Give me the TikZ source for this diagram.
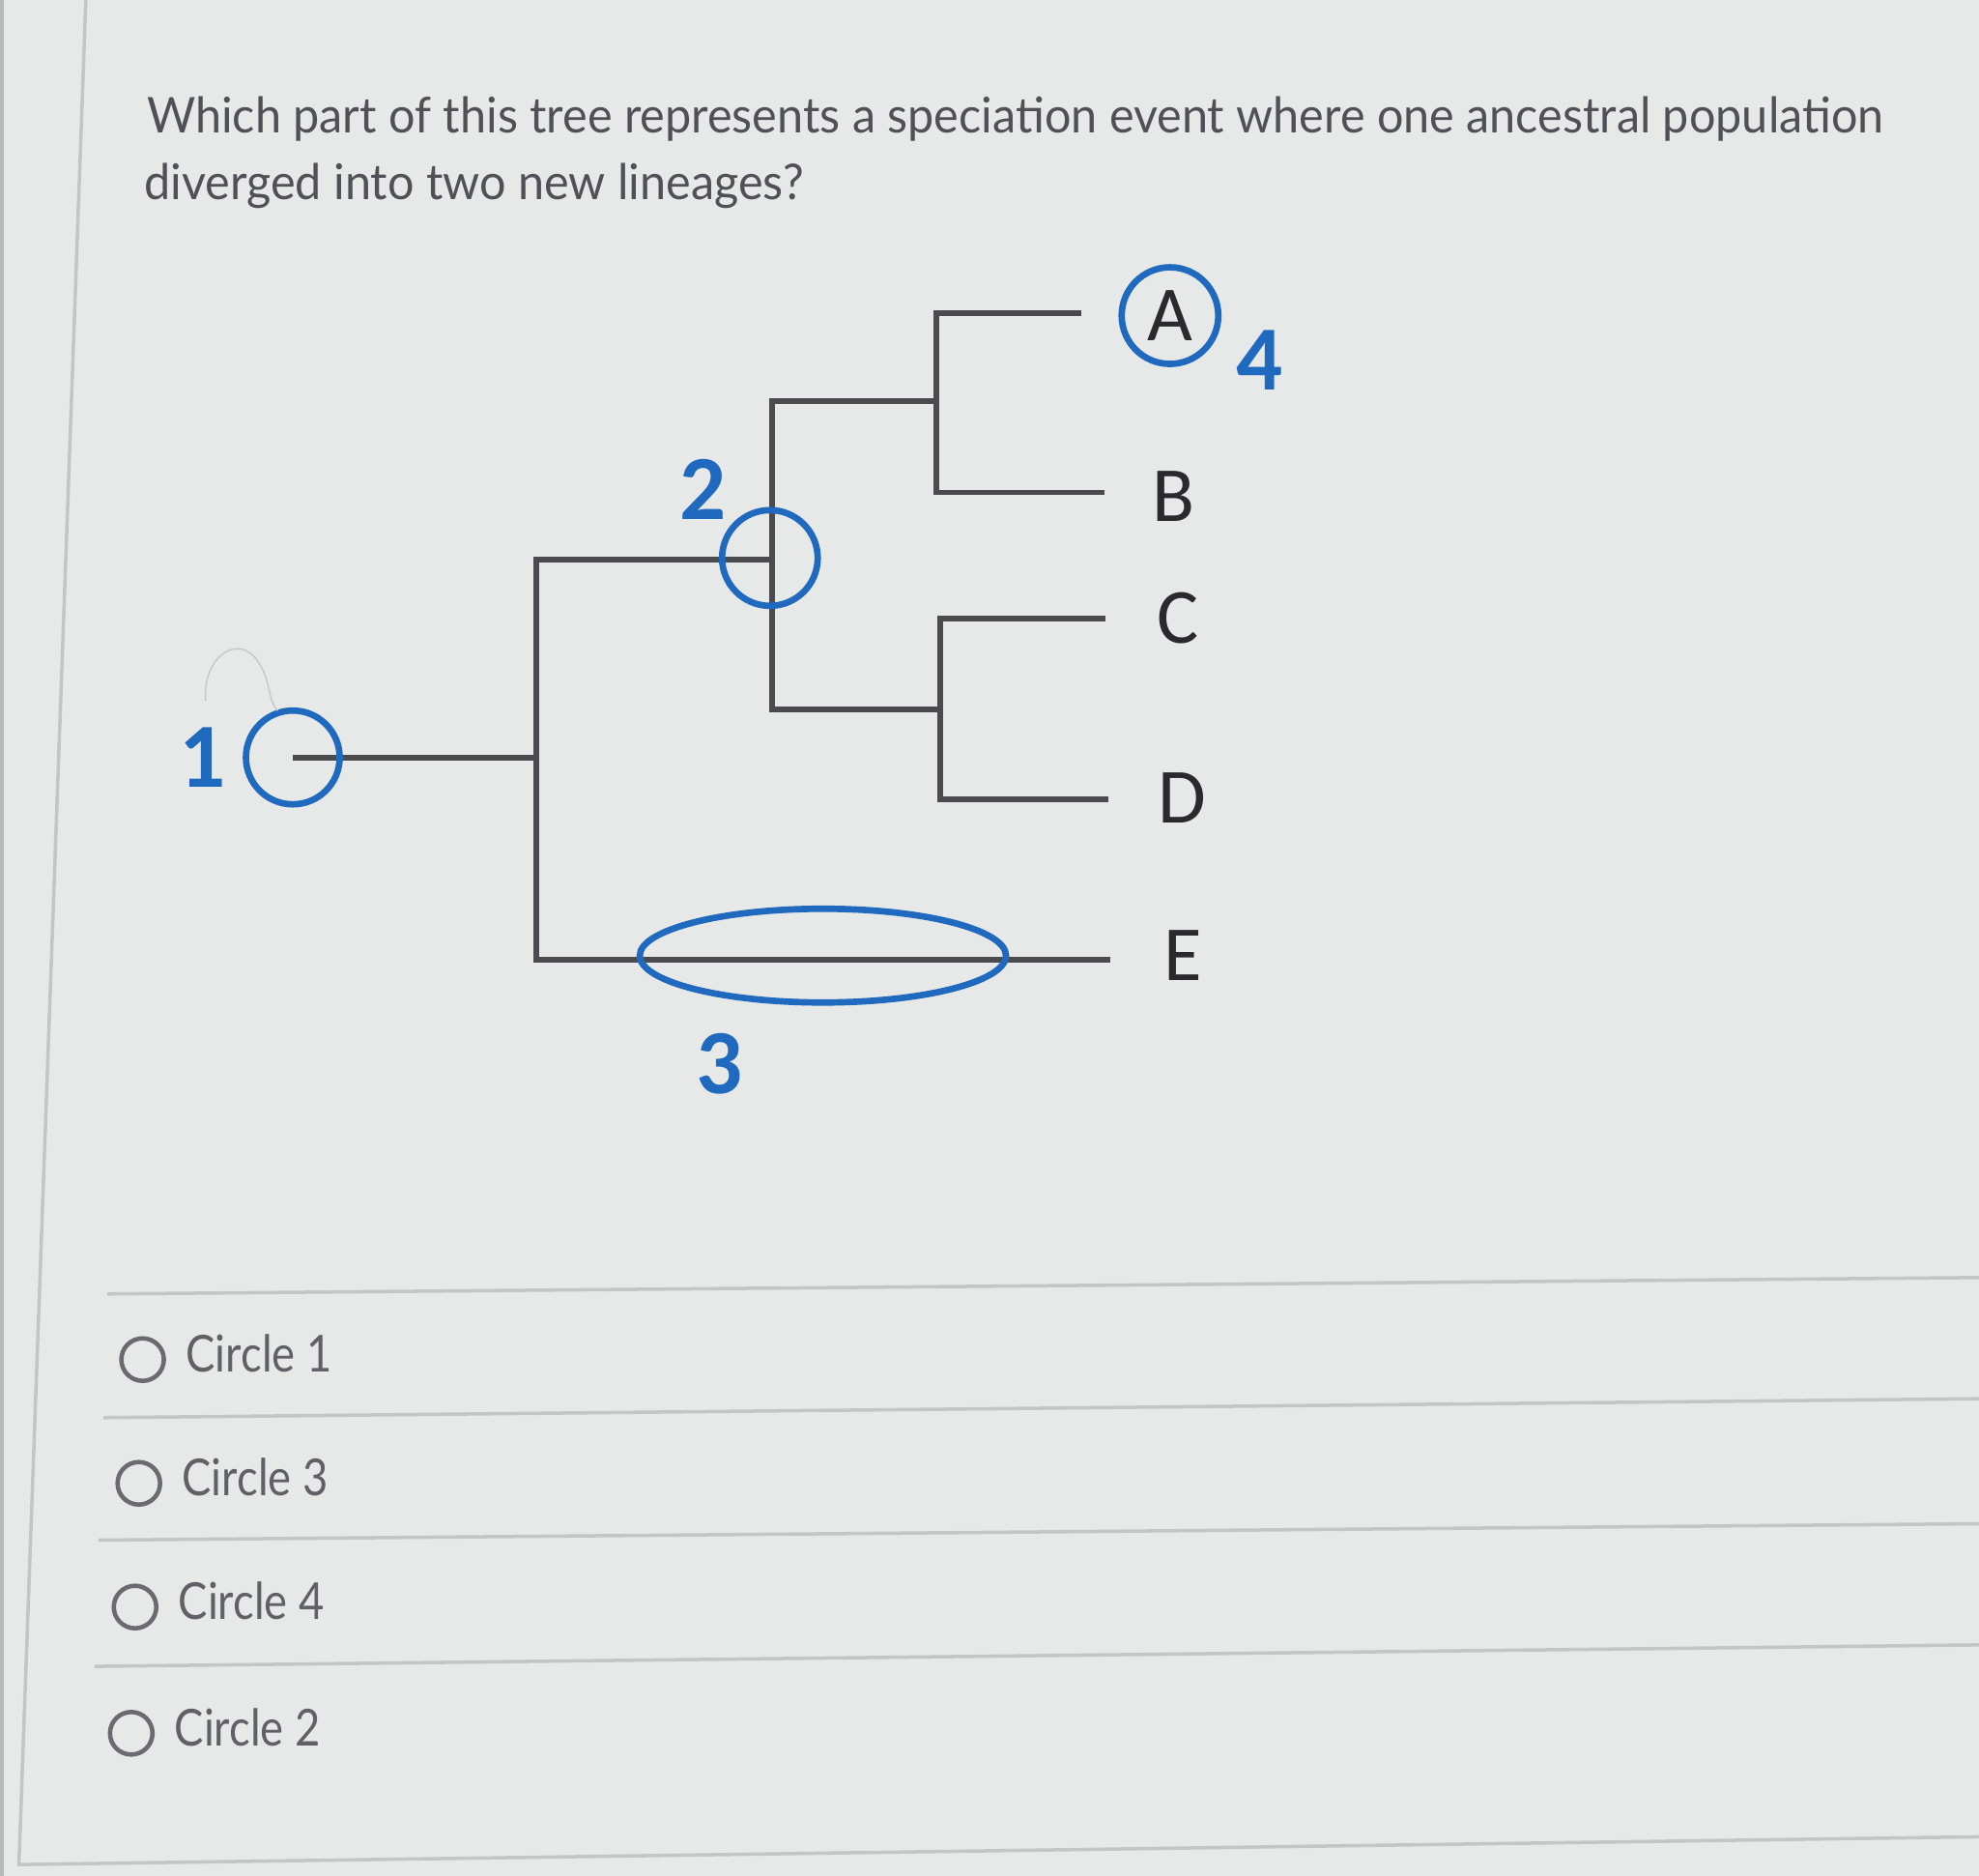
\documentclass[tikz,border=0pt]{standalone}
\usepackage{graphicx}
\usepackage{fontspec}
\setmainfont{Lato}
\newfontfamily\treefont{Carlito}
\usetikzlibrary{positioning,shapes.geometric}

\definecolor{pagebg}{HTML}{E7E9E8}
\definecolor{edgegray}{HTML}{B9BBBB}
\definecolor{rulegray}{HTML}{C4C6C6}
\definecolor{textgray}{HTML}{505056}
\definecolor{choicegray}{HTML}{606066}
\definecolor{inkgray}{HTML}{4B4B4F}
\definecolor{tipblack}{HTML}{2A2A2E}
\definecolor{markblue}{HTML}{1F69BE}
\definecolor{radiogray}{HTML}{6A6A70}

\begin{document}
\begin{tikzpicture}[x=0.013061cm, y=-0.013061cm,
    branch/.style={draw=inkgray, line width=1.65pt},
    hilite/.style={draw=markblue, line width=1.9pt, inner sep=0pt},
    tip/.style={font=\treefont\fontsize{23}{23}\selectfont, text=tipblack, inner sep=0pt},
    tag/.style={font=\treefont\bfseries\fontsize{27}{27}\selectfont, text=markblue, inner sep=0pt},
    question/.style={font=\fontsize{14.5}{18}\selectfont, text=textgray, anchor=base west, inner sep=0pt},
    choice/.style={font=\fontsize{15}{18}\selectfont, text=choicegray, inner sep=0pt},
    radio/.style={circle, draw=radiogray, line width=1.3pt, minimum size=0.44cm, inner sep=0pt},
    rule/.style={draw=rulegray, line width=1pt}
  ]
  \useasboundingbox (0,0) rectangle (1568,1486);
  \fill[pagebg] (0,0) rectangle (1568,1486);
  \fill[edgegray] (0,0) rectangle (3,1486);

  % page frame and separators
  \draw[rule] (68,0) -- (15,1477) -- (1568,1455);
  \draw[rule] (85,1025) -- (1568,1012);
  \draw[rule] (82,1123) -- (1568,1108);
  \draw[rule] (78,1220) -- (1568,1207);
  \draw[rule] (75,1320) -- (1568,1303);

  % question
  \node[question] (q1) at (116,105) {\scalebox{0.952}[1]{Which part of this tree represents a speciation event where one ancestral population}};
  \node[question] (q2) at (114,158) {\scalebox{0.952}[1]{diverged into two new lineages?}};

  % tree joints
  \coordinate (r0) at (232,600);
  \coordinate (j1) at (425,600);
  \coordinate (j2) at (612,443);
  \coordinate (j3) at (742,318);
  \coordinate (j4) at (745,562);
  \coordinate (tA) at (857,248);
  \coordinate (tB) at (875,390);
  \coordinate (tC) at (876,490);
  \coordinate (tD) at (878,633);
  \coordinate (tE) at (880,760);

  % branches
  \draw[branch] (r0) -- (j1);
  \draw[branch] (j2) -| (j1) |- (tE);
  \draw[branch] (j3) -| (j2) |- (j4);
  \draw[branch] (tA) -| (j3) |- (tB);
  \draw[branch] (tC) -| (j4) |- (tD);

  % tips
  \node[tip, hilite, circle, minimum size=1.0cm] (lA) at (927,250) {A};
  \node[tip] (lB) at (930,393) {B};
  \node[tip] (lC) at (933,490) {C};
  \node[tip] (lD) at (937,632) {D};
  \node[tip] (lE) at (937,757) {E};

  % marked parts
  \node[hilite, circle, minimum size=0.97cm] (c1) at (232,600) {};
  \node[hilite, circle, minimum size=0.99cm] (c2) at (610,442) {};
  \node[hilite, ellipse, minimum width=3.79cm, minimum height=0.97cm] (c3) at (652,757) {};
  \node[tag, left=0.17cm of c1] (n1) {1};
  \node[tag] (n2) at (557,388) {2};
  \node[tag] (n3) at (570,843) {3};
  \node[tag] (n4) at (998,285) {4};
  \draw[black!22, line width=0.4pt] (163,555) .. controls (160,520) and (190,500) .. (205,525) .. controls (215,540) and (212,555) .. (220,563);

  % answers
  \node[radio] (r1) at (113,1077) {};
  \node[radio] (r2) at (110,1175) {};
  \node[radio] (r3) at (107,1273) {};
  \node[radio] (r4) at (104,1373) {};
  \node[choice, right=0.2cm of r1, yshift=0.06cm] (a1) {\scalebox{0.86}[1]{Circle 1}};
  \node[choice, right=0.2cm of r2, yshift=0.06cm] (a2) {\scalebox{0.86}[1]{Circle 3}};
  \node[choice, right=0.2cm of r3, yshift=0.06cm] (a3) {\scalebox{0.86}[1]{Circle 4}};
  \node[choice, right=0.2cm of r4, yshift=0.06cm] (a4) {\scalebox{0.86}[1]{Circle 2}};
\end{tikzpicture}
\end{document}
